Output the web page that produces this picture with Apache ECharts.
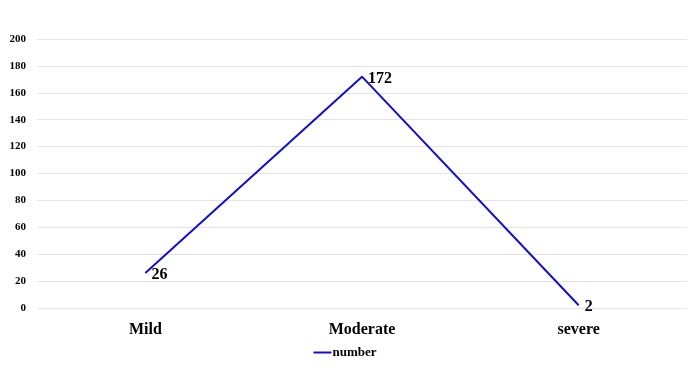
<!DOCTYPE html>
<html><head><meta charset="utf-8">
<script src="https://cdn.jsdelivr.net/npm/echarts@6/dist/echarts.min.js"></script>
<style>html,body{margin:0;padding:0;background:#fff}#c{width:690px;height:372px}</style>
</head><body><div id="c"></div>
<script>
const categories = ['Mild', 'Moderate', 'severe'];
const numberValues = [26, 172, 2];
const seriesName = 'number';

const FONT = '"Liberation Serif", "DejaVu Serif", serif';
const chart = echarts.init(document.getElementById('c'), null, {renderer: 'canvas'});
chart.setOption({
  animation: false,
  backgroundColor: '#fff',
  grid: {left: 37, right: 3, top: 39, bottom: 64, containLabel: false},
  legend: {
    bottom: 8, left: 'center',
    itemWidth: 18, itemHeight: 10, itemGap: 10,
    icon: 'path://M0,4 L18,4 L18,6 L0,6 Z',
    textStyle: {fontFamily: FONT, fontWeight: 'bold', fontSize: 13, color: '#000', padding: [0,0,0,-4]},
    data: [seriesName]
  },
  xAxis: {
    type: 'category', data: categories, boundaryGap: true,
    axisLine: {show: false}, axisTick: {show: false},
    axisLabel: {fontFamily: FONT, fontWeight: 'bold', fontSize: 16, color: '#000', margin: 14}
  },
  yAxis: {
    type: 'value', min: 0, max: 200, interval: 20,
    axisLine: {show: false}, axisTick: {show: false},
    splitLine: {lineStyle: {color: '#e4e4e4', width: 1}},
    axisLabel: {fontFamily: FONT, fontWeight: 'bold', fontSize: 11, color: '#000', margin: 11}
  },
  series: [{
    name: seriesName, type: 'line', data: numberValues,
    symbol: 'circle', symbolSize: 0.1, showSymbol: true,
    lineStyle: {color: '#1010cc', width: 2},
    itemStyle: {color: '#1010cc'},
    label: {show: true, position: 'right', distance: 6, offset: [0, 2],
      fontFamily: FONT, fontWeight: 'bold', fontSize: 16, color: '#000'}
  }]
});
</script></body></html>
